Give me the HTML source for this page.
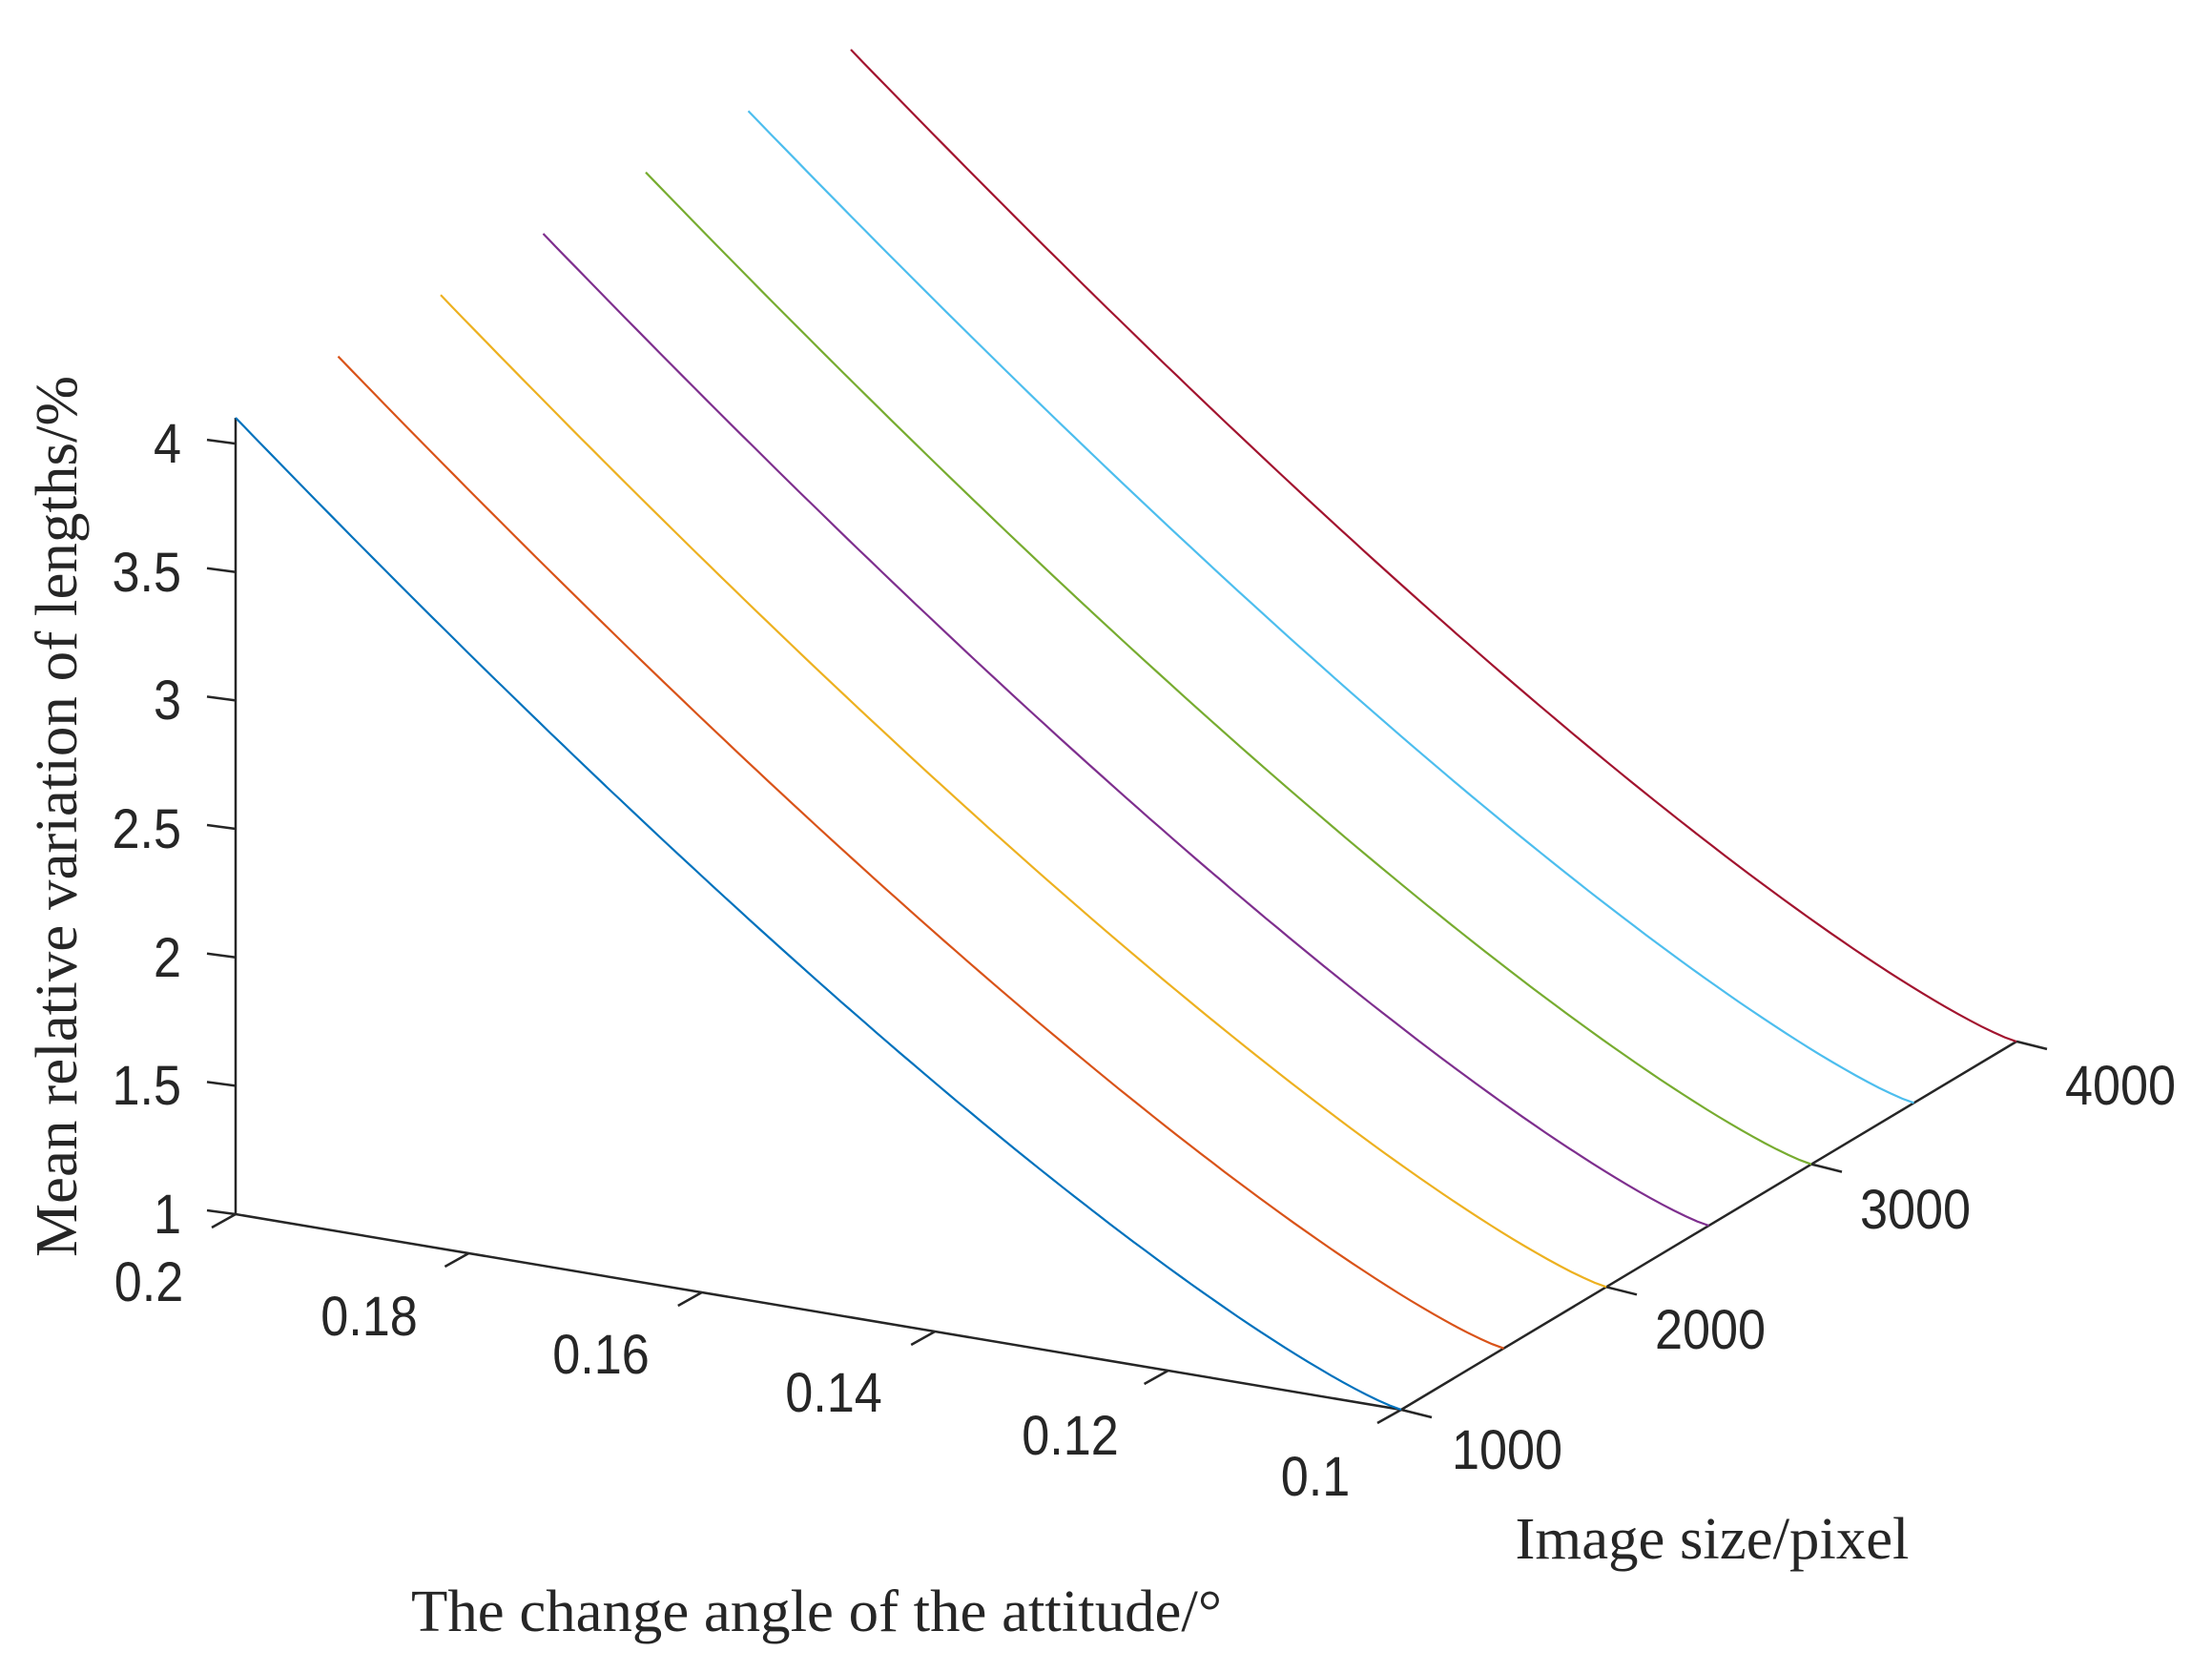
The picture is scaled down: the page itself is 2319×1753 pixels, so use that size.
<!DOCTYPE html>
<html><head><meta charset="utf-8"><style>
html,body{margin:0;padding:0;background:#fff;}
svg{display:block}
.t{font-family:"Liberation Sans",Arial,sans-serif;font-size:58px;fill:#262626}
.l{font-family:"Liberation Serif","Times New Roman",serif;font-size:62px;fill:#262626}
</style></head><body>
<svg id="s" width="2319" height="1753" viewBox="0 0 2319 1753" xmlns="http://www.w3.org/2000/svg">
<g stroke="#262626" stroke-width="2.5" fill="none">
<line x1="247" y1="438" x2="247" y2="1273"/>
<line x1="247" y1="1273" x2="1469" y2="1478"/>
<line x1="1469" y1="1478" x2="2114" y2="1092"/>
<g id="ticks"></g>
</g>
<g id="curves" fill="none" stroke-width="2.2"></g>
<g class="t" text-anchor="end" dominant-baseline="central">
<text transform="translate(190,465) scale(0.9,1)">4</text>
<text transform="translate(190,600) scale(0.9,1)">3.5</text>
<text transform="translate(190,734) scale(0.9,1)">3</text>
<text transform="translate(190,869) scale(0.9,1)">2.5</text>
<text transform="translate(190,1004) scale(0.9,1)">2</text>
<text transform="translate(190,1138) scale(0.9,1)">1.5</text>
<text transform="translate(190,1273) scale(0.9,1)">1</text>
</g>
<g class="t" text-anchor="middle" dominant-baseline="central">
<text transform="translate(156,1344) scale(0.9,1)">0.2</text>
<text transform="translate(387,1380) scale(0.9,1)">0.18</text>
<text transform="translate(630,1420) scale(0.9,1)">0.16</text>
<text transform="translate(874,1460) scale(0.9,1)">0.14</text>
<text transform="translate(1122,1505) scale(0.9,1)">0.12</text>
<text transform="translate(1379,1548) scale(0.9,1)">0.1</text>
<text transform="translate(1580,1520) scale(0.9,1)">1000</text>
<text transform="translate(1793,1394) scale(0.9,1)">2000</text>
<text transform="translate(2008,1268) scale(0.9,1)">3000</text>
<text transform="translate(2223,1138) scale(0.9,1)">4000</text>
</g>
<text class="l" x="1795" y="1634" text-anchor="middle" textLength="413" lengthAdjust="spacingAndGlyphs">Image size/pixel</text>
<text class="l" x="856" y="1710" text-anchor="middle" textLength="850" lengthAdjust="spacingAndGlyphs">The change angle of the attitude/°</text>
<text class="l" transform="translate(80,856) rotate(-90)" text-anchor="middle" textLength="924" lengthAdjust="spacingAndGlyphs">Mean relative variation of lengths/%</text>
</svg>
<script>
var NS="http://www.w3.org/2000/svg";
var tk=document.getElementById("ticks"),cv=document.getElementById("curves");
function ln(x1,y1,x2,y2){var l=document.createElementNS(NS,"line");l.setAttribute("x1",x1);l.setAttribute("y1",y1);l.setAttribute("x2",x2);l.setAttribute("y2",y2);tk.appendChild(l);}
for(var z=1;z<=4.001;z+=0.5){var y=1273-(z-1)*269.3;ln(247,y,217,y-4);}
for(var k=0;k<=5;k++){var t=k/5;var x=247+1222*t,y=1273+205*t;ln(x,y,x-25,y+14);}
for(var k=0;k<=3;k++){var x=1469+215*k,y=1478-128.7*k;ln(x,y,x+32,y+8);}
var cols=["#0072BD","#D95319","#EDB120","#7E2F8E","#77AC30","#4DBEEE","#A2142F"];
for(var c=0;c<7;c++){var ox=107.5*c,oy=-64.33*c,d="";
for(var i=0;i<=100;i++){var t=i/100;var x=247+1222*t+ox,y=1273+205*t+oy-835*Math.pow(1-t,1.27);d+=(i?"L":"M")+x.toFixed(1)+" "+y.toFixed(1);}
var p=document.createElementNS(NS,"path");p.setAttribute("d",d);p.setAttribute("stroke",cols[c]);cv.appendChild(p);}
</script>
</body></html>
